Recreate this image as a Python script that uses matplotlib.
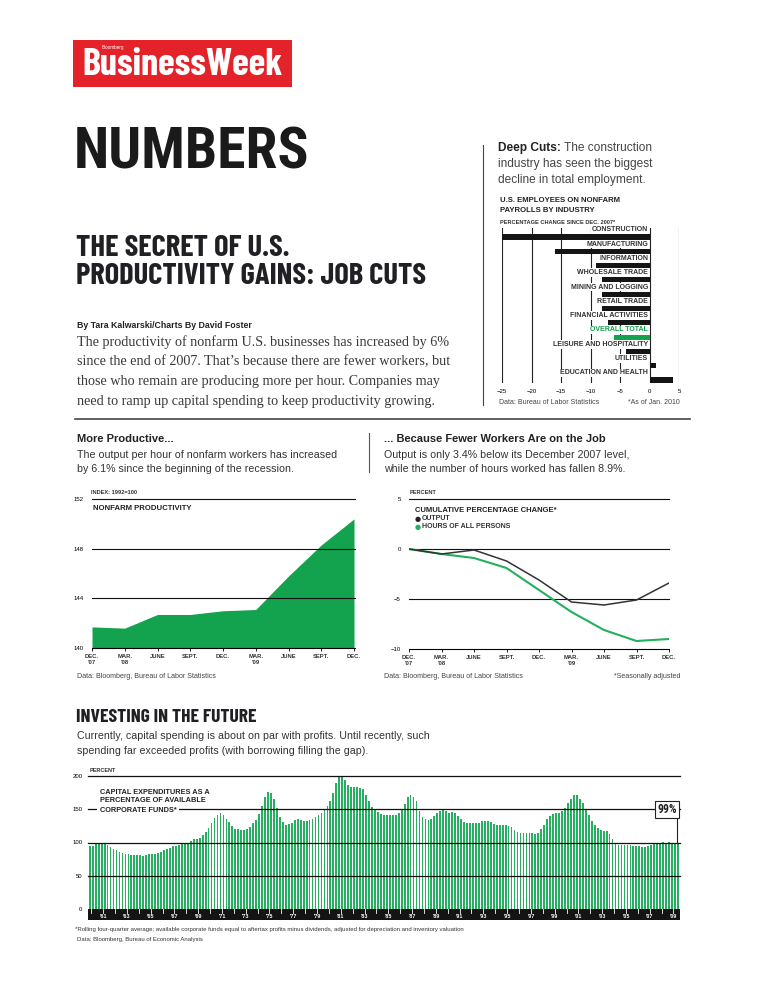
import matplotlib
matplotlib.use("Agg")
import matplotlib.pyplot as plt
import numpy as np
from matplotlib.patches import Rectangle
from matplotlib.lines import Line2D

# ---- data ----
industries = ["CONSTRUCTION", "MANUFACTURING", "INFORMATION", "WHOLESALE TRADE",
              "MINING AND LOGGING", "RETAIL TRADE", "FINANCIAL ACTIVITIES",
              "OVERALL TOTAL", "LEISURE AND HOSPITALITY", "UTILITIES",
              "EDUCATION AND HEALTH"]
industry_change = [-25.0, -16.0, -9.1, -8.1, -8.1, -8.1, -7.1, -6.0, -4.0, 1.1, 4.0]
cut_ticks = [-25, -20, -15, -10, -5, 0, 5]

quarter_labels = ["DEC.\n'07", "MAR.\n'08", "JUNE", "SEPT.", "DEC.",
                  "MAR.\n'09", "JUNE", "SEPT.", "DEC."]
productivity = [141.7, 141.6, 142.7, 142.7, 143.0, 143.1, 145.8, 148.3, 150.4]
output_change = [0, -0.5, -0.1, -1.2, -3.1, -5.3, -5.6, -5.1, -3.4]
hours_change = [0, -0.5, -0.9, -1.9, -4.1, -6.3, -8.1, -9.2, -9.0]

# quarterly, 1960 Q1 onward
capex_pct = [
    95, 95, 99, 99,      99, 97, 96, 93,      90, 88, 86, 84,      83, 82, 81, 81,
    81, 81, 80, 81,      82, 82, 83, 84,      86, 88, 90, 92,      94, 95, 96, 97,
    99, 100, 102, 105,   106, 107, 111, 116,  122, 130, 137, 142,  144, 141, 136, 131,
    125, 121, 120, 119,  119, 120, 124, 129,  134, 143, 155, 168,  176, 175, 166, 152,
    139, 131, 127, 128,  130, 134, 135, 134,  133, 133, 134, 136,  139, 142, 145, 150,
    155, 163, 175, 189,  198, 199, 194, 187,  183, 184, 183, 182,  180, 172, 162, 154,
    149, 146, 143, 142,  142, 142, 141, 142,  144, 149, 158, 168,  171, 169, 162, 148,
    138, 135, 134, 136,  140, 144, 147, 149,  148, 145, 146, 144,  140, 135, 131, 129,
    129, 129, 130, 130,  132, 132, 132, 131,  128, 126, 126, 126,  126, 125, 123, 119,
    116, 115, 115, 115,  114, 114, 113, 115,  120, 126, 135, 140,  143, 144, 145, 147,
    152, 160, 166, 172,  171, 166, 159, 150,  142, 133, 126, 122,  119, 118, 118, 113,
    105, 99, 96, 96,     96, 96, 96, 95,      95, 94, 93, 93,      95, 96, 98, 100,
    100, 101, 100, 101,  100, 99, 99,
]
capex_years = list(range(1960, 2010))
capex_year_labels = ["'61", "'63", "'65", "'67", "'69", "'71", "'73", "'75", "'77",
                     "'79", "'81", "'83", "'85", "'87", "'89", "'91", "'93", "'95",
                     "'97", "'99", "'01", "'03", "'05", "'07", "'09"]

SANS = ["Liberation Sans", "DejaVu Sans"]
NARROW = ["Barlow Condensed", "Roboto Condensed", "DejaVu Sans"]
WIDE_NARROW = ["Roboto Condensed", "Barlow Condensed", "DejaVu Sans"]
SERIF = ["Liberation Serif", "DejaVu Serif"]
GREEN = "#13a24e"
LGREEN = "#22b05f"

W, H = 768, 994
fig = plt.figure(figsize=(W / 100, H / 100), dpi=100)


def fx(x):
    return x / W


def fy(y):
    return 1 - y / H


def rect(x0, y0, x1, y1):
    return [x0 / W, 1 - y1 / H, (x1 - x0) / W, (y1 - y0) / H]


def txt(x, y, s, size, weight="normal", family=SANS, color="#222", ha="left", va="center", **kw):
    return fig.text(fx(x), fy(y), s, fontsize=size, fontweight=weight, family=family,
                    color=color, ha=ha, va=va, **kw)


def hline(x0, x1, y, lw=1.0, color="#333"):
    fig.add_artist(Line2D([fx(x0), fx(x1)], [fy(y), fy(y)], transform=fig.transFigure, lw=lw, color=color))


def vline(x, y0, y1, lw=1.0, color="#333"):
    fig.add_artist(Line2D([fx(x), fx(x)], [fy(y0), fy(y1)], transform=fig.transFigure, lw=lw, color=color))


# ---- header ----
fig.add_artist(Rectangle((fx(73), fy(87)), (292 - 73) / W, (87 - 40) / H,
                         transform=fig.transFigure, color="#e42229", lw=0))
txt(183, 65, "BusinessWeek", 27.5, weight="bold", family=NARROW, color="white", ha="center")
txt(102, 47, "Bloomberg", 3.3, color="white")
txt(74, 153, "NUMBERS", 41.5, weight="bold", family=WIDE_NARROW, color="#1a1a1a")

txt(76, 249, "THE SECRET OF U.S.", 22, weight="bold", family=NARROW, color="#1f1f24")
txt(76, 276, "PRODUCTIVITY GAINS: JOB CUTS", 22, weight="bold", family=NARROW, color="#1f1f24")
txt(77, 325, "By Tara Kalwarski/Charts By David Foster", 6.3, weight="bold")
body = ["The productivity of nonfarm U.S. businesses has increased by 6%",
        "since the end of 2007. That\u2019s because there are fewer workers, but",
        "those who remain are producing more per hour. Companies may",
        "need to ramp up capital spending to keep productivity growing."]
for k, line in enumerate(body):
    txt(77, 342 + 20 * k, line, 10.2, family=SERIF, color="#3a3a3a")

vline(483, 145, 405, lw=0.8, color="#444")
hline(75, 690, 419, lw=1.2, color="#444")

renderer = fig.canvas.get_renderer()
t = txt(498, 148, "Deep Cuts:", 8.6, weight="bold", color="#222")
bb = t.get_window_extent(renderer=renderer)
fig.text(bb.x1 / W + 3 / W, fy(148), "The construction", fontsize=8.6, family=SANS,
         color="#444", va="center")
txt(498, 164, "industry has seen the biggest", 8.6, color="#444")
txt(498, 180, "decline in total employment.", 8.6, color="#444")

txt(500, 201, "U.S. EMPLOYEES ON NONFARM", 5.6, weight="bold")
txt(500, 211, "PAYROLLS BY INDUSTRY", 5.6, weight="bold")
txt(500, 222, "PERCENTAGE CHANGE SINCE DEC. 2007*", 4.1, weight="bold", color="#333")

# ---- deep cuts bars ----
ax = fig.add_axes(rect(502, 228, 679, 383))
ypos = np.arange(len(industries))
colors = [GREEN if name == "OVERALL TOTAL" else "#151515" for name in industries]
ax.barh(ypos, industry_change, height=0.36, color=colors, zorder=2)
for v in cut_ticks:
    ax.axvline(v, color="#222", lw=0.8, zorder=1)
for i, name in enumerate(industries):
    ax.text(-0.25, i - 0.5, name, ha="right", va="center", fontsize=5.0, fontweight="bold",
            family=SANS, color=GREEN if name == "OVERALL TOTAL" else "#333", zorder=3,
            bbox=dict(boxstyle="square,pad=0.12", fc="white", ec="none"))
ax.set_xlim(-25, 5)
ax.set_ylim(10.21, -0.63)
ax.set_xticks(cut_ticks)
ax.set_xticklabels([str(v).replace("-", "\u2212") for v in cut_ticks], fontsize=4.3, family=SANS)
ax.set_yticks([])
ax.tick_params(axis="x", length=0, pad=4)
for s in ax.spines.values():
    s.set_visible(False)
txt(499, 402, "Data: Bureau of Labor Statistics", 5.0, color="#444")
txt(680, 402, "*As of Jan. 2010", 5.0, color="#444", ha="right")

# ---- section titles ----
txt(77, 439, "More Productive...", 8.0, weight="bold")
txt(77, 455, "The output per hour of nonfarm workers has increased", 7.7, color="#333")
txt(77, 469, "by 6.1% since the beginning of the recession.", 7.7, color="#333")
vline(369, 433, 472, lw=0.8, color="#555")
txt(384, 439, "... Because Fewer Workers Are on the Job", 8.0, weight="bold")
txt(384, 455, "Output is only 3.4% below its December 2007 level,", 7.7, color="#333")
txt(384, 469, "while the number of hours worked has fallen 8.9%.", 7.7, color="#333")

x = np.arange(len(quarter_labels))

# ---- productivity area ----
ax = fig.add_axes(rect(92, 499, 355, 648))
ax.fill_between(x, 140, productivity, color=GREEN, lw=0, zorder=1)
for v in [144, 148, 152]:
    ax.axhline(v, color="#111", lw=0.8, zorder=3, clip_on=False)
ax.set_xlim(0, 8.03)
ax.set_ylim(140, 152)
ax.set_yticks([140, 144, 148, 152])
ax.set_yticklabels(["140", "144", "148", "152"], fontsize=4.3, family=SANS)
ax.tick_params(axis="y", length=0, pad=6)
ax.set_xticks(x)
ax.set_xticklabels(quarter_labels, fontsize=4.2, fontweight="bold", family=SANS, color="#333",
                   linespacing=1.4)
ax.tick_params(axis="x", length=2.5, width=0.6, pad=1.5)
for k in ["top", "right", "left"]:
    ax.spines[k].set_visible(False)
ax.spines["bottom"].set_linewidth(0.8)
txt(91, 492, "INDEX: 1992=100", 4.1, weight="bold", color="#333")
txt(93, 508, "NONFARM PRODUCTIVITY", 5.6, weight="bold")
txt(77, 676, "Data: Bloomberg, Bureau of Labor Statistics", 5.1, color="#444")

# ---- output vs hours ----
ax = fig.add_axes(rect(409, 499, 669, 649))
for v in [5, 0, -5]:
    ax.axhline(v, color="#111", lw=0.8, zorder=1, clip_on=False)
ax.plot(x, output_change, color="#333", lw=1.1, zorder=3)
ax.plot(x, hours_change, color=LGREEN, lw=1.5, zorder=2)
ax.set_xlim(0, 8)
ax.set_ylim(-10, 5)
ax.set_yticks([-10, -5, 0, 5])
ax.set_yticklabels(["\u221210", "\u22125", "0", "5"], fontsize=4.3, family=SANS)
ax.tick_params(axis="y", length=0, pad=6)
ax.set_xticks(x)
ax.set_xticklabels(quarter_labels, fontsize=4.2, fontweight="bold", family=SANS, color="#333",
                   linespacing=1.4)
ax.tick_params(axis="x", length=2.5, width=0.6, pad=1.5)
for k in ["top", "right", "left"]:
    ax.spines[k].set_visible(False)
ax.spines["bottom"].set_linewidth(0.8)
txt(410, 492, "PERCENT", 4.1, weight="bold", color="#333")
txt(415, 510, "CUMULATIVE PERCENTAGE CHANGE*", 5.5, weight="bold")
txt(415, 519, "\u25cf", 5.0, family=["DejaVu Sans"], color="#222")
txt(422, 519, "OUTPUT", 5.0, weight="bold", color="#333")
txt(415, 527, "\u25cf", 5.0, family=["DejaVu Sans"], color=LGREEN)
txt(422, 527, "HOURS OF ALL PERSONS", 5.0, weight="bold", color="#333")
txt(384, 676, "Data: Bloomberg, Bureau of Labor Statistics", 5.1, color="#444")
txt(680, 676, "*Seasonally adjusted", 5.1, color="#444", ha="right")

# ---- investing in the future ----
txt(76, 718, "INVESTING IN THE FUTURE", 14, weight="bold", family=NARROW, color="#1f1f24")
txt(77, 736, "Currently, capital spending is about on par with profits. Until recently, such", 7.7, color="#333")
txt(77, 751, "spending far exceeded profits (with borrowing filling the gap).", 7.7, color="#333")

n = len(capex_pct)
qx = np.arange(n)
ax = fig.add_axes(rect(88, 776, 680, 909))
ax.bar(qx, capex_pct, width=0.6, color="#27ae62", lw=0, zorder=1)
for v in [50, 100, 150, 200]:
    ax.axhline(v, color="#111", lw=0.9, zorder=3, clip_on=False)
ax.set_xlim(-0.6, n - 0.3)
ax.set_ylim(0, 200)
ax.set_yticks([0, 50, 100, 150, 200])
ax.set_yticklabels(["0", "50", "100", "150", "200"], fontsize=4.3, family=SANS)
ax.tick_params(axis="y", length=0, pad=4)
ax.set_xticks([])
for s in ax.spines.values():
    s.set_visible(False)
txt(90, 771, "PERCENT", 4.0, weight="bold", color="#333")
txt(100, 792, "CAPITAL EXPENDITURES AS A", 5.3, weight="bold")
txt(100, 801, "PERCENTAGE OF AVAILABLE", 5.3, weight="bold")
txt(100, 810, "CORPORATE FUNDS*", 5.3, weight="bold", zorder=5,
    bbox=dict(boxstyle="square,pad=0.35", fc="white", ec="none"))
ax.plot([n - 1.4, n - 1.4], [100, 140], color="#222", lw=0.8, zorder=4)
ax.text(n - 1.4, 150, "99%", ha="right", va="center", fontsize=8.5, fontweight="bold",
        family=WIDE_NARROW, color="#222", zorder=5,
        bbox=dict(boxstyle="square,pad=0.15", fc="white", ec="#222", lw=0.8))

band = fig.add_axes(rect(88, 909, 680, 920))
band.set_facecolor("#141414")
band.set_xlim(-0.6, n - 0.3)
band.set_ylim(0, 1)
for yr in capex_years:
    band.plot([4 * (yr - 1960) + 0.5] * 2, [0.62, 1.0], color="white", lw=0.6)
for k, lab in enumerate(capex_year_labels):
    band.text(4 * (1961 + 2 * k - 1960) + 0.5, 0.32, lab, ha="center", va="center",
              fontsize=3.9, fontweight="bold", color="white", family=SANS)
band.set_xticks([])
band.set_yticks([])
for s in band.spines.values():
    s.set_visible(False)

txt(75, 930, "*Rolling four-quarter average; available corporate funds equal to aftertax profits minus "
    "dividends, adjusted for depreciation and inventory valuation", 4.3, color="#333")
txt(77, 940, "Data: Bloomberg, Bureau of Economic Analysis", 4.3, color="#333")

fig.savefig("out.png", dpi=100)
